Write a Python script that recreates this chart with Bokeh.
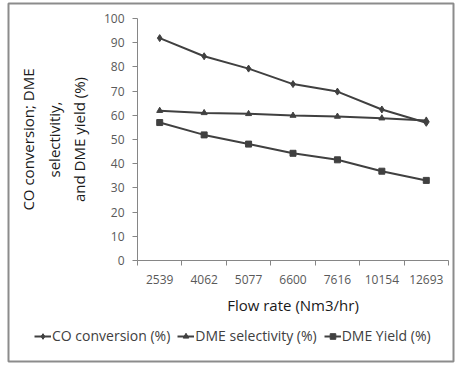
from bokeh.plotting import figure
from bokeh.models import FixedTicker, Legend, LegendItem, Range1d, LinearAxis
from bokeh.embed import file_html
from bokeh.resources import INLINE

# ---- data ----
flow_rates = ["2539", "4062", "5077", "6600", "7616", "10154", "12693"]
co_conversion = [91.9, 84.4, 79.3, 72.9, 69.8, 62.4, 56.9]
dme_selectivity = [61.9, 61.0, 60.6, 59.9, 59.5, 58.8, 57.9]
dme_yield = [57.0, 51.9, 48.1, 44.3, 41.6, 36.9, 33.1]
y_ticks = list(range(0, 101, 10))

n = len(flow_rates)
x = [i + 0.5 for i in range(n)]

FONT = "Open Sans"
LINE = "#404040"
AXIS = "#868686"

# page layout (pixels): outer box and plot area
BOX_L, BOX_T, BOX_R, BOX_B = 8, 3, 453, 361
AX_L, AX_R, AX_T, AX_B = 137, 448, 18, 260
W, H = 460, 366
px_x = (AX_R - AX_L) / n
px_y = (AX_B - AX_T) / 100.0
x_range = Range1d((BOX_L - AX_L) / px_x, n + (BOX_R - AX_R) / px_x)
y_range = Range1d(-(BOX_B - AX_B) / px_y, 100 + (AX_T - BOX_T) / px_y)

p = figure(width=W, height=H, output_backend="svg", toolbar_location=None,
           x_range=x_range, y_range=y_range,
           x_axis_location=None, y_axis_location=None,
           min_border_left=BOX_L, min_border_right=W - BOX_R,
           min_border_top=BOX_T, min_border_bottom=H - BOX_B)
p.grid.visible = False
p.outline_line_color = "#8c8c8c"
p.outline_line_width = 2

# y axis
ya = LinearAxis(fixed_location=0, bounds=(0, 100))
ya.ticker = FixedTicker(ticks=y_ticks, minor_ticks=[])
ya.axis_line_color = AXIS
ya.major_tick_line_color = AXIS
ya.major_tick_out = 5
ya.major_tick_in = 0
ya.major_label_text_font = FONT
ya.major_label_text_font_size = "12px"
ya.major_label_text_color = "#595959"
ya.major_label_standoff = 8
ya.axis_label = "CO conversion; DME\nselectivitiy,\nand DME yield (%)"
ya.axis_label_text_font = FONT
ya.axis_label_text_font_size = "15px"
ya.axis_label_text_font_style = "normal"
ya.axis_label_text_color = "#1a1a1a"
ya.axis_label_text_line_height = 1.27
ya.axis_label_standoff = 12
p.add_layout(ya, "left")

# x axis
xa = LinearAxis(fixed_location=0, bounds=(0, n))
xa.ticker = FixedTicker(ticks=x, minor_ticks=list(range(n + 1)))
xa.major_label_overrides = {xi: lab for xi, lab in zip(x, flow_rates)}
xa.axis_line_color = AXIS
xa.major_tick_line_color = None
xa.major_tick_out = 0
xa.major_tick_in = 0
xa.minor_tick_line_color = AXIS
xa.minor_tick_out = 5
xa.minor_tick_in = 0
xa.major_label_text_font = FONT
xa.major_label_text_font_size = "12px"
xa.major_label_text_color = "#595959"
xa.major_label_standoff = 9
xa.axis_label = "Flow rate (Nm3/hr)"
xa.axis_label_text_font = FONT
xa.axis_label_text_font_size = "15px"
xa.axis_label_text_font_style = "normal"
xa.axis_label_text_color = "#1a1a1a"
xa.axis_label_standoff = 8
p.add_layout(xa, "below")

# series
l1 = p.line(x, co_conversion, line_color=LINE, line_width=2)
m1 = p.scatter(x, co_conversion, marker="diamond", size=7, color=LINE)
l2 = p.line(x, dme_selectivity, line_color=LINE, line_width=2)
m2 = p.scatter(x, dme_selectivity, marker="triangle", size=6, color=LINE)
l3 = p.line(x, dme_yield, line_color=LINE, line_width=2)
m3 = p.scatter(x, dme_yield, marker="square", size=6, color=LINE)

legend = Legend(items=[
    LegendItem(label="CO conversion (%)", renderers=[l1, m1]),
    LegendItem(label="DME selectivity (%)", renderers=[l2, m2]),
    LegendItem(label="DME Yield (%)", renderers=[l3, m3]),
], orientation="horizontal", location=(26, 16))
legend.border_line_color = None
legend.background_fill_alpha = 0
legend.label_text_font = FONT
legend.label_text_font_size = "14px"
legend.label_text_color = "#404040"
legend.glyph_width = 17
legend.glyph_height = 14
legend.label_standoff = 1
legend.spacing = 7
legend.padding = 4
legend.margin = 0
p.add_layout(legend, "center")

open("out.html", "w").write(file_html(p, INLINE))
